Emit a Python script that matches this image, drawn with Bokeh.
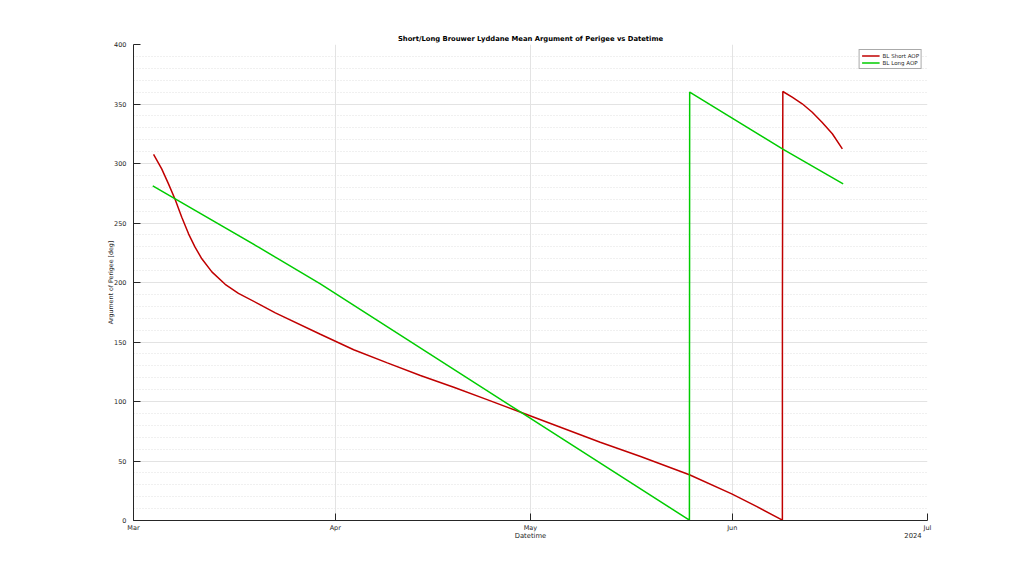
import pandas as pd
from bokeh.plotting import figure
from bokeh.models import (Range1d, FixedTicker, SingleIntervalTicker, DatetimeTickFormatter,
                          LinearAxis, Legend, LegendItem)
from bokeh.embed import file_html
from bokeh.resources import INLINE

# ---- data ----
short_times = ["2024-03-04 02:00", "2024-03-05 08:00", "2024-03-06 09:00", "2024-03-07 10:00",
               "2024-03-08 10:00", "2024-03-09 11:00", "2024-03-10 11:00", "2024-03-11 12:00",
               "2024-03-13 01:00", "2024-03-15 02:00", "2024-03-17 03:00", "2024-03-20 05:00",
               "2024-03-22 19:00", "2024-03-29 17:00", "2024-04-03 20:00", "2024-04-09 00:00",
               "2024-04-14 02:00", "2024-04-19 05:00", "2024-04-24 08:00", "2024-04-29 12:00",
               "2024-05-11 17:00", "2024-05-17 22:00", "2024-05-25 10:00", "2024-05-31 22:00",
               "2024-06-04 19:00", "2024-06-08 16:50", "2024-06-08 17:00", "2024-06-08 18:30",
               "2024-06-10 05:00", "2024-06-11 18:00", "2024-06-13 07:00", "2024-06-14 19:00",
               "2024-06-16 09:00", "2024-06-17 22:00"]
short_aop = [307.6, 295.5, 282.9, 269.5,
             254.9, 240.9, 229.7, 219.9,
             208.9, 198.5, 190.8, 182.1,
             174.5, 156.5, 143.5, 132.5,
             121.8, 112.0, 101.6, 91.0,
             65.8, 53.8, 38.4, 22.4,
             11.6, 0.3, 180.0, 360.5,
             355.7, 350.2, 343.1, 334.7,
             325.0, 312.3]

long_times = ["2024-03-03 23:00", "2024-03-07 13:00", "2024-03-20 05:00", "2024-03-22 19:00",
              "2024-03-29 17:00", "2024-04-29 12:00", "2024-05-25 10:00", "2024-05-25 11:00",
              "2024-06-08 20:00", "2024-06-18 01:00"]
long_aop = [281.2, 269.8, 229.7, 221.3,
            198.9, 91.0, 0.3, 360.0,
            311.8, 282.9]

month_ticks = ["2024-03-01", "2024-04-01", "2024-05-01", "2024-06-01", "2024-07-01"]
y_min, y_max, y_step = 0, 400, 50
year_label = "2024"
x_label = "Datetime"

FONT = "DejaVu Sans"
AX = "#262626"
DAY = 86400000.0

st = pd.to_datetime(short_times)
lt = pd.to_datetime(long_times)
mt = pd.to_datetime(month_ticks)
ms = lambda ts: ts.value / 1e6
x0, x1 = ms(mt[0]), ms(mt[-1])

p = figure(width=1008, height=568, x_axis_type="datetime", output_backend="svg",
           toolbar_location=None,
           x_range=Range1d(x0, x1), y_range=Range1d(y_min, y_max),
           min_border_left=133, min_border_right=81, min_border_top=44, min_border_bottom=48,
           background_fill_color="white", border_fill_color="white")
p.outline_line_color = None

p.title.text = "Short/Long Brouwer Lyddane Mean Argument of Perigee vs Datetime"
p.title.align = "center"
p.title.text_font = FONT
p.title.text_font_size = "6.8px"
p.title.text_font_style = "bold"
p.title.text_color = "black"
p.title.standoff = 4

# axes
xa = p.xaxis[0]
xa.ticker = FixedTicker(ticks=[ms(t) for t in mt])
xa.formatter = DatetimeTickFormatter(months="%b", days="%b", years="%b", hours="%b")
ya = p.yaxis[0]
ya.ticker = SingleIntervalTicker(interval=y_step, num_minor_ticks=5)
ya.axis_label = "Argument of Perigee [deg]"
for ax in (xa, ya):
    ax.axis_line_color = AX
    ax.axis_line_width = 1
    ax.major_tick_line_color = AX
    ax.major_tick_in = 7
    ax.major_tick_out = 0
    ax.minor_tick_line_color = None
    ax.major_label_text_font = FONT
    ax.major_label_text_font_size = "6.5px"
    ax.major_label_text_color = AX
    ax.axis_label_text_font = FONT
    ax.axis_label_text_font_size = "6.3px"
    ax.axis_label_text_font_style = "normal"
    ax.axis_label_text_color = AX
xa.major_label_standoff = 3
ya.major_label_standoff = 3
ya.axis_label_standoff = -3

# second row under the x axis: x label (centered) and the year (under Jul)
t_mid = (x0 + x1) / 2
t_year = x1 - 2.23 * DAY
xa2 = LinearAxis(ticker=FixedTicker(ticks=[t_mid, t_year]),
                 major_label_overrides={t_mid: x_label, t_year: year_label})
xa2.axis_line_color = None
xa2.major_tick_line_color = None
xa2.minor_tick_line_color = None
xa2.major_tick_in = 0
xa2.major_tick_out = 0
xa2.major_label_standoff = -3
xa2.major_label_text_font = FONT
xa2.major_label_text_font_size = "6.8px"
xa2.major_label_text_color = AX
p.add_layout(xa2, "below")

# grids
p.xgrid.grid_line_color = "#e3e3e3"
p.ygrid.grid_line_color = "#e3e3e3"
p.ygrid.minor_grid_line_color = "#e0e0e0"
p.ygrid.minor_grid_line_dash = "1 2"

r1 = p.line(st, short_aop, line_color="#c00000", line_width=1.5)
r2 = p.line(lt, long_aop, line_color="#00cc00", line_width=1.5)

legend = Legend(items=[LegendItem(label="BL Short AOP", renderers=[r1]),
                       LegendItem(label="BL Long AOP", renderers=[r2])],
                location="top_right")
legend.label_text_font = FONT
legend.label_text_font_size = "5.5px"
legend.label_text_color = AX
legend.border_line_color = "#555555"
legend.border_line_width = 1
legend.margin = 5
legend.padding = 2
legend.spacing = 0
legend.label_height = 7
legend.glyph_height = 7
legend.glyph_width = 18
legend.label_standoff = 3
p.add_layout(legend, "center")

open("out.html", "w").write(file_html(p, INLINE))
